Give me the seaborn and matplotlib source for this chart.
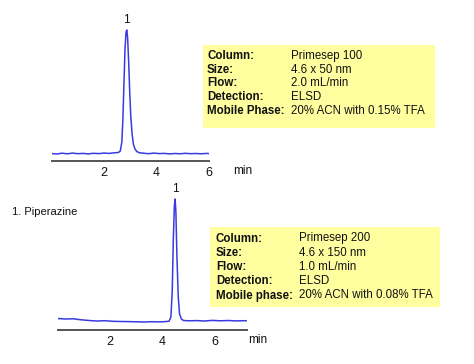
import matplotlib
matplotlib.use("Agg")
import matplotlib.pyplot as plt
import seaborn as sns
import pandas as pd
from matplotlib.patches import Rectangle

sns.set_theme(style="white")
plt.rcParams['font.family'] = ['Liberation Sans', 'DejaVu Sans']

# Chromatogram 1 (Primesep 100)
t1 = [0.0, 0.2, 0.4, 0.6, 0.8, 1.0, 1.2, 1.4, 1.6, 1.8, 2.0, 2.2, 2.4, 2.55, 2.62, 2.68,
      2.72, 2.76, 2.80, 2.84, 2.87, 2.90, 2.94, 2.98, 3.02, 3.07, 3.12, 3.18, 3.25, 3.35,
      3.5, 3.7, 3.9, 4.1, 4.3, 4.5, 4.7, 4.9, 5.1, 5.3, 5.5, 5.7, 5.9, 6.0]
s1 = [0.5, 0.0, 0.8, 0.2, 0.9, 0.3, 0.6, 0.1, 0.7, 0.4, 0.9, 0.6, 1.2, 1.5, 3, 12,
      35, 70, 105, 122, 124, 116, 92, 62, 38, 20, 10, 5, 2.5, 1.2,
      0.8, 0.3, 0.9, 0.4, 0.6, 0.1, 0.5, 0.2, 0.7, 0.3, 0.5, 0.2, 0.6, 0.4]

# Chromatogram 2 (Primesep 200)
t2 = [0.0, 0.3, 0.6, 0.9, 1.2, 1.5, 1.8, 2.1, 2.4, 2.7, 3.0, 3.3, 3.6, 3.9, 4.1, 4.25,
      4.32, 4.37, 4.41, 4.45, 4.48, 4.51, 4.55, 4.60, 4.65, 4.72, 4.8, 5.0, 5.3, 5.6,
      5.9, 6.2, 6.5, 6.8, 7.1, 7.2]
s2 = [3.5, 3.0, 3.2, 2.2, 1.5, 1.0, 1.3, 0.7, 0.5, 0.4, 0.2, 0.0, 0.3, 0.1, 0.4, 0.8,
      5, 30, 80, 115, 123, 110, 65, 25, 8, 3, 1.5, 1.2, 1.4, 1.0,
      1.6, 1.2, 1.5, 1.1, 1.3, 1.2]

ticks = [2, 4, 6]
peak_label = "1"
compound = "1. Piperazine"

box1_keys = ["Column:", "Size:", "Flow:", "Detection:", "Mobile Phase:"]
box1_vals = ["Primesep 100", "4.6 x 50 nm", "2.0 mL/min", "ELSD", "20% ACN with 0.15% TFA"]
box2_keys = ["Column:", "Size:", "Flow:", "Detection:", "Mobile phase:"]
box2_vals = ["Primesep 200", "4.6 x 150 nm", "1.0 mL/min", "ELSD", "20% ACN with 0.08% TFA"]

W, H = 474, 364
fig = plt.figure(figsize=(W / 100, H / 100), dpi=100)
line_color = "#3a3ae0"


def fx(px):
    return px / W


def fy(py):
    return 1 - py / H


def make_axes(left_px, right_px, spine_px, top_px, xlim, ylim, t, s):
    ax = fig.add_axes([fx(left_px), fy(spine_px), (right_px - left_px) / W, (spine_px - top_px) / H])
    df = pd.DataFrame({"t": t, "s": s})
    sns.lineplot(data=df, x="t", y="s", ax=ax, color=line_color, lw=1.1, sort=False)
    ax.set_xlim(*xlim)
    ax.set_ylim(*ylim)
    ax.set_xticks(ticks)
    ax.set_xticklabels([str(v) for v in ticks])
    ax.set_yticks([])
    ax.set_xlabel("")
    ax.set_ylabel("")
    for k in ["top", "right", "left"]:
        ax.spines[k].set_visible(False)
    ax.spines["bottom"].set_color("#555555")
    ax.spines["bottom"].set_linewidth(1.4)
    ax.tick_params(axis="x", length=0, pad=4, labelsize=9, labelcolor="#111111")
    ax.patch.set_alpha(0)
    return ax


ax1 = make_axes(51.5, 209, 161, 28, (0, 6.0), (-7, 126), t1, s1)
ax2 = make_axes(57.5, 246.5, 330, 197, (0, 7.2), (-8, 125), t2, s2)

# peak labels
fig.text(fx(126), fy(20), peak_label, ha="center", va="center", fontsize=8.5, color="#111111")
fig.text(fx(175), fy(189), peak_label, ha="center", va="center", fontsize=8.5, color="#111111")
# min labels
fig.text(fx(243), fy(171), "min", ha="center", va="center", fontsize=8.5, color="#111111")
fig.text(fx(258), fy(340), "min", ha="center", va="center", fontsize=8.5, color="#111111")
# compound legend
fig.text(fx(12), fy(212), compound, ha="left", va="center", fontsize=8, color="#111111")


def info_box(x0, x1, y0, y1, kx, vx, rows_y, keys, vals):
    fig.patches.append(Rectangle((fx(x0), fy(y1)), (x1 - x0) / W, (y1 - y0) / H,
                                 transform=fig.transFigure, facecolor="#ffffa0",
                                 edgecolor="none", zorder=0))
    for y, k, v in zip(rows_y, keys, vals):
        fig.text(fx(kx), fy(y), k, ha="left", va="center", fontsize=8.3,
                 fontweight="bold", color="#111111")
        fig.text(fx(vx), fy(y), v, ha="left", va="center", fontsize=8.3, color="#111111")


info_box(203, 435, 45, 128, 207, 291, [55.7, 70, 83.5, 97.5, 111.5], box1_keys, box1_vals)
info_box(210, 440, 227, 307, 216, 299, [238.5, 252.5, 266.7, 281, 295.5], box2_keys, box2_vals)

fig.savefig("out.png", dpi=100)
